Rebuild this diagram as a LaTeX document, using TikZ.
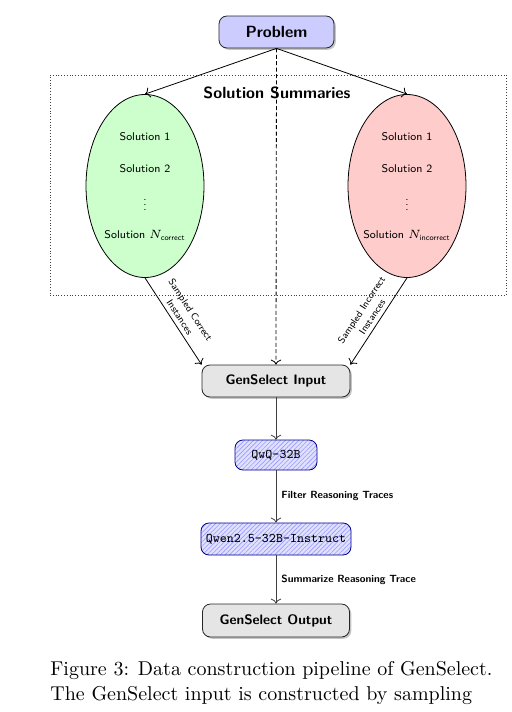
\documentclass[tikz,border=0pt]{standalone}
\usepackage{amsmath}
\usepackage{tikz}
\usetikzlibrary{arrows.meta, positioning, shapes.geometric, shadows, patterns.meta}

\newcommand{\smallvdots}{\vbox{\baselineskip2.3pt\lineskiplimit0pt\hbox{.}\hbox{.}\hbox{.}}}

\begin{document}
\begin{tikzpicture}[
  x=0.5pt, y=-0.5pt,
  >=To,
  flowbox/.style={draw=black!85, rounded corners=4pt, inner sep=0pt,
    font=\fontsize{6.85}{8}\selectfont\sffamily\bfseries,
    drop shadow={shadow xshift=0.9pt, shadow yshift=-0.9pt, opacity=0.45}},
  modelbox/.style={draw=blue!55!black, rounded corners=4pt, inner sep=0pt,
    preaction={fill=blue!12},
    pattern={Lines[angle=45, distance=1.6pt, line width=0.3pt]}, pattern color=blue!40,
    font=\fontsize{6.6}{8}\selectfont\ttfamily},
  solset/.style={ellipse, draw=black, inner sep=0pt, minimum width=59pt, minimum height=91.5pt},
  soltext/.style={font=\fontsize{5.6}{7}\selectfont\sffamily},
  steplabel/.style={font=\fontsize{5.2}{6}\selectfont\sffamily\bfseries, right, inner sep=2.5pt},
  armlabel/.style={font=\fontsize{4.9}{6.4}\selectfont\sffamily, align=center, inner sep=2pt},
]

\useasboundingbox[fill=white] (0,0) rectangle (511,712);

% --- Solution summaries frame ---
\node[draw=black!75, densely dotted, minimum width=228pt, minimum height=110pt] (frame) at (278,185) {};
\node[font=\fontsize{8.1}{10}\selectfont\sffamily\bfseries] (frametitle) at (277,93) {Solution Summaries};

% --- Problem ---
\node[flowbox, fill=blue!20, minimum width=57.5pt, minimum height=16pt, font=\fontsize{8.1}{10}\selectfont\sffamily\bfseries] (prob) at (276.5,32) {Problem};

% --- Correct / incorrect sets ---
\node[solset, fill=green!20] (corr) at (145,186) {};
\node[soltext] (c1) at (145,137) {Solution 1};
\node[soltext] (c2) at (145,169) {Solution 2};
\node[soltext] (c3) at (145,205) {\smallvdots};
\node[soltext] (c4) at (145,235) {Solution $N_{\text{correct}}$};

\node[solset, fill=red!20] (incorr) at (407,186) {};
\node[soltext] (i1) at (407,137) {Solution 1};
\node[soltext] (i2) at (407,169) {Solution 2};
\node[soltext] (i3) at (407,205) {\smallvdots};
\node[soltext] (i4) at (407,235) {Solution $N_{\text{incorrect}}$};

% --- Pipeline ---
\node[flowbox, fill=gray!20, minimum width=74pt, minimum height=16pt] (input) at (276,381) {GenSelect Input};
\node[modelbox, minimum width=41pt, minimum height=15pt] (qwq) at (276,455) {QwQ-32B};
\node[modelbox, minimum width=75pt, minimum height=16pt] (qwen) at (276,539) {Qwen2.5-32B-Instruct};
\node[flowbox, fill=gray!20, minimum width=73.5pt, minimum height=16.5pt] (output) at (276,620.5) {GenSelect Output};

% Arrows
\draw[->] (prob.south) -- (corr.north);
\draw[->] (prob.south) -- (incorr.north);
\draw[->, dash pattern=on 2pt off 1.2pt] (prob.south) -- (input.north);
\draw[->] (corr.south) -- node[armlabel, midway, sloped, above] {Sampled Correct\\Instances} (input.north west);
\draw[->] (incorr.south) -- node[armlabel, midway, sloped, above] {Sampled Incorrect\\Instances} (input.north east);
\draw[->, black!75] (input) -- (qwq);
\draw[->, black!75] (qwq) -- node[steplabel, midway, black] {Filter Reasoning Traces} (qwen);
\draw[->, black!75] (qwen) -- node[steplabel, midway, black] {Summarize Reasoning Trace} (output);

% --- Caption ---
\node[anchor=base west, inner sep=0pt, font=\fontsize{10}{12}\selectfont] (cap1) at (50,675) {Figure 3: Data construction pipeline of GenSelect.};
\node[anchor=base west, inner sep=0pt, font=\fontsize{10}{12}\selectfont] (cap2) at (50,700) {The GenSelect input is constructed by sampling};

\end{tikzpicture}
\end{document}
